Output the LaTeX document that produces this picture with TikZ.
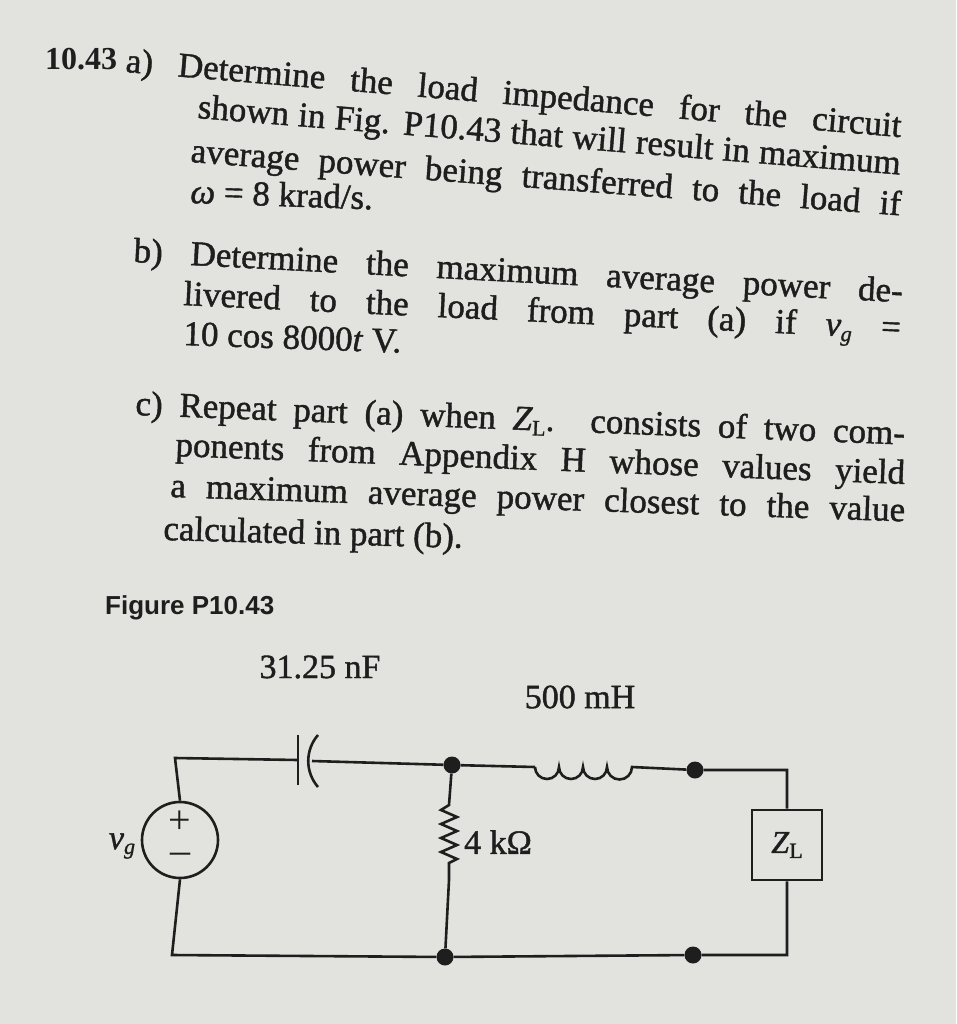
\documentclass[tikz,border=0pt]{standalone}
\usepackage{fontspec}
\setmainfont{Liberation Serif}
\newfontfamily\bk[FakeBold=1.2]{Liberation Serif}
\newfontfamily\hsans{Liberation Sans}
\definecolor{paper}{RGB}{226,226,222}
\definecolor{ink}{RGB}{30,30,30}
\newcommand{\sbs}[1]{\raisebox{-5pt}{\fontsize{22}{22}\selectfont #1}}
\newcommand{\vgsym}{\textit{v}\sbs{\textit{g}}}
\newcommand{\zlsym}{\textit{Z}\sbs{L}}
\begin{document}
\begin{tikzpicture}[x=1pt,y=-1pt,
  txt/.style={anchor=base west,inner sep=0pt,text=ink,font=\bk\fontsize{35}{38}\selectfont},
  wire/.style={draw=ink,line width=2.6pt},
  dot/.style={circle,fill=ink,inner sep=0pt,minimum size=17pt},
  lbl/.style={text=ink,font=\bk\fontsize{34}{36}\selectfont,inner sep=1pt}]
\fill[paper] (0,0) rectangle (956,1024);
\useasboundingbox (0,0) rectangle (956,1024);
\node[txt,font=\bfseries\fontsize{32}{34}\selectfont] (num) at (45,70) {10.43};
\node[txt,rotate=-4.8] (l1) at (125,72) {\makebox[778pt][s]{a) Determine the load impedance for the circuit}};
\node[txt,rotate=-4.6] (l2) at (197,118) {\makebox[705pt][s]{shown in Fig. P10.43 that will result in maximum}};
\node[txt,rotate=-4.3] (l3) at (190,162) {\makebox[712pt][s]{average power being transferred to the load if}};
\node[txt,rotate=-2] (l4) at (190,203) {\textit{ω} = 8 krad/s.};
\node[txt,rotate=-3] (l5) at (133,262) {\makebox[770pt][s]{b) Determine the maximum average power de-}};
\node[txt,rotate=-2.7] (l6) at (183,305) {\makebox[718pt][s]{livered to the load from part (a) if \vgsym{} =}};
\node[txt,rotate=-2] (l7) at (183,345) {10 cos 8000\textit{t} V.};
\node[txt,rotate=-2.2] (l8) at (135,415) {\makebox[770pt][s]{c) Repeat part (a) when \zlsym. consists of two com-}};
\node[txt,rotate=-2.2] (l9) at (175,456) {\makebox[730pt][s]{ponents from Appendix H whose values yield}};
\node[txt,rotate=-1.9] (l10) at (170,497) {\makebox[735pt][s]{a maximum average power closest to the value}};
\node[txt,rotate=-1.5] (l11) at (163,540) {calculated in part (b).};
\node[txt,font=\hsans\bfseries\fontsize{26}{28}\selectfont] (fig) at (105,614) {Figure P10.43};
% circuit
\node[circle,draw=ink,line width=2.6pt,minimum size=76pt,inner sep=0pt] (src) at (180,840) {};
\node[text=ink,font=\fontsize{40}{40}\selectfont,inner sep=0pt] (plus) at (180,822) {+};
\node[text=ink,font=\fontsize{40}{40}\selectfont,inner sep=0pt] (minus) at (180,858) {--};
\node[lbl] (vg) at (122,846) {\vgsym};
\coordinate (tl) at (175,758);
\coordinate (bl) at (172,955);
\coordinate (c1) at (298,760);
\coordinate (c2) at (312,761);
\node[dot] (n1) at (452,765) {};
\coordinate (i1) at (535,767);
\node[dot] (n2) at (695,770) {};
\coordinate (tr) at (787,770);
\node[draw=ink,line width=2.6pt,minimum width=70pt,minimum height=70pt,inner sep=0pt,font=\bk\fontsize{32}{32}\selectfont,text=ink] (zl) at (787,845) {\zlsym};
\coordinate (br) at (787,955);
\node[dot] (n3) at (693,955) {};
\node[dot] (n4) at (445,957) {};
\coordinate (r1) at (449,805);
\coordinate (r2) at (449,880);
\draw[wire] (src.north) -- (tl) -- (c1);
\draw[wire] (298,735) -- (298,785);
\draw[wire] (318,735) .. controls (305,750) and (305,772) .. (318,787);
\draw[wire] (c2) -- (n1) -- (i1);
\draw[wire] (i1) arc[start angle=180,end angle=0,radius=12] arc[start angle=180,end angle=0,radius=12] arc[start angle=180,end angle=0,radius=12] arc[start angle=180,end angle=0,radius=12.5] -- (n2) -- (tr) -- (zl.north);
\draw[wire] (zl.south) -- (br) -- (n3) -- (n4) -- (bl) -- (src.south);
\draw[wire] (n1) -- (r1) -- ++(-8,5) -- ++(16,7) -- ++(-16,7) -- ++(16,7) -- ++(-16,7) -- ++(16,7) -- ++(-16,7) -- ++(16,7) -- ++(-8,4) -- (r2) -- (n4);
\node[lbl] (cl) at (320,667) {31.25 nF};
\node[lbl] (il) at (580,697) {500 mH};
\node[lbl] (rl) at (498,842) {4 kΩ};
\end{tikzpicture}
\end{document}
